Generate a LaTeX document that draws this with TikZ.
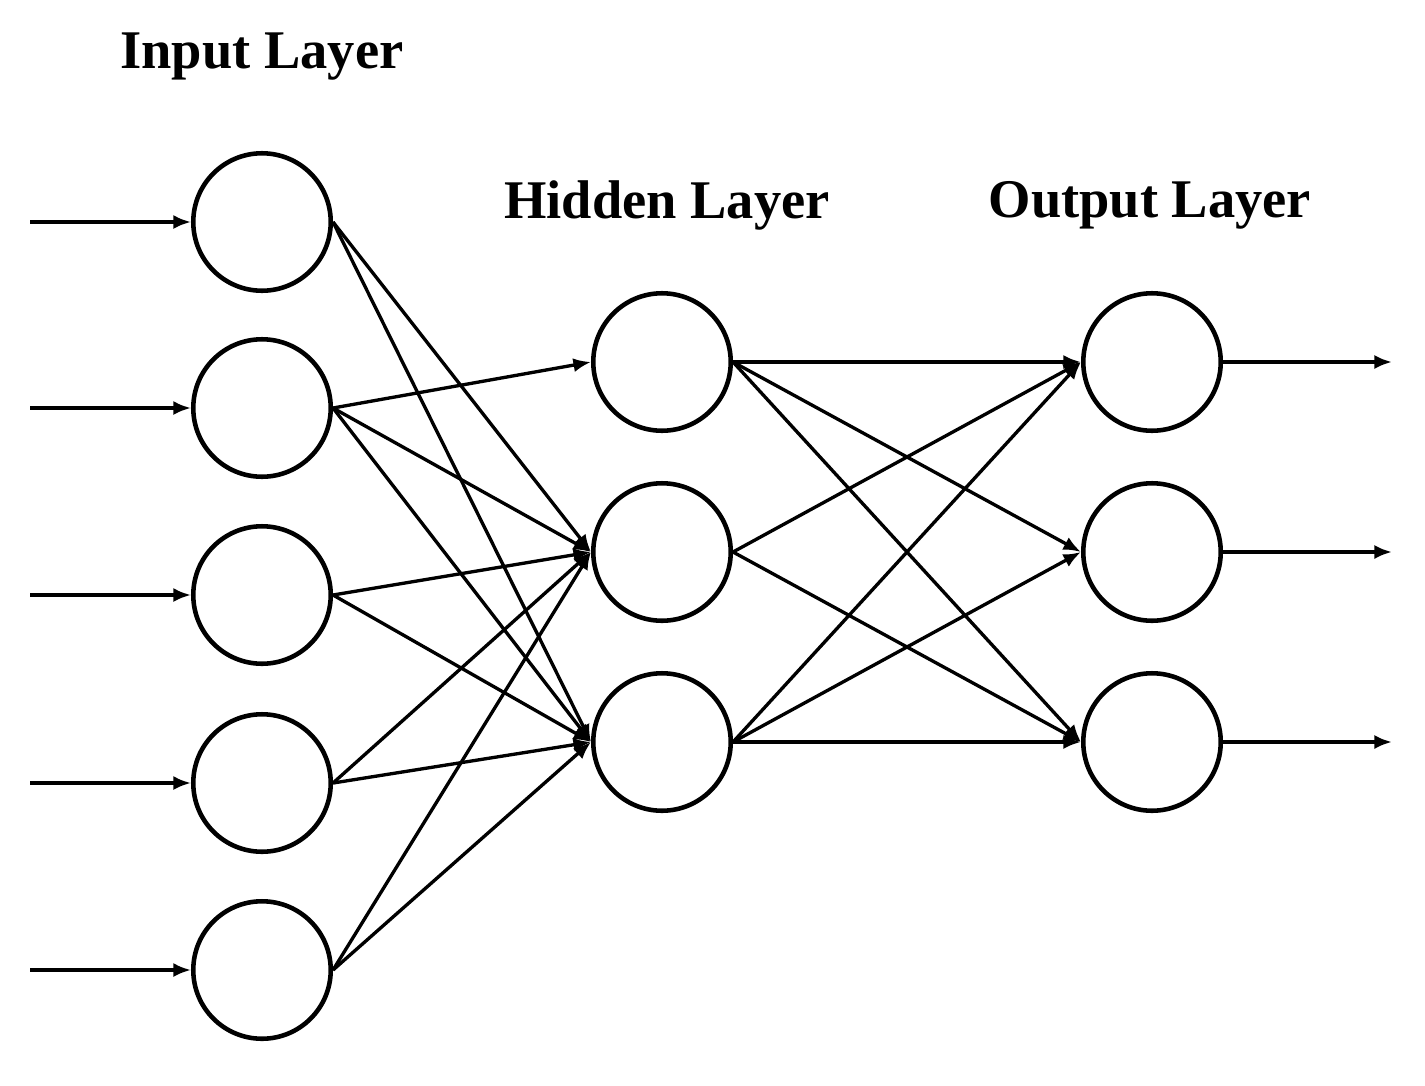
\documentclass[tikz,border=0pt]{standalone}
\usepackage{fontspec}
\setmainfont{Liberation Serif}
\usetikzlibrary{arrows.meta}
\begin{document}
\begin{tikzpicture}[x=0.02cm,y=-0.02cm,
 neuron/.style={circle,draw,line width=2.6pt,minimum size=2.75cm,inner sep=0},
 conn/.style={line width=1.9pt,-{Latex[length=10pt,width=8pt]}},
 lbl/.style={font=\bfseries\fontsize{31}{34}\selectfont}]
\useasboundingbox (0,0) rectangle (1425,1085);
\foreach \i/\y in {1/222,2/408,3/595,4/783,5/970}{
 \node[neuron] (i\i) at (262,\y) {};
 \coordinate (s\i) at (30,\y);
 \draw[conn] (s\i) -- (i\i);}
\foreach \j/\y in {1/362,2/552,3/742}{
 \node[neuron] (h\j) at (662,\y) {};
 \node[neuron] (o\j) at (1152,\y) {};
 \coordinate (e\j) at (1392,\y);
 \draw[conn] (o\j) -- (e\j);}
\foreach \a/\b in {1/2,1/3,2/1,2/2,2/3,3/2,3/3,4/2,4/3,5/2,5/3}
 \draw[conn] (i\a.east) -- (h\b.west);
\foreach \a/\b in {1/1,1/2,1/3,2/1,2/3,3/1,3/2,3/3}
 \draw[conn] (h\a.east) -- (o\b.west);
\node[lbl] (t1) at (262,57) {Input Layer};
\node[lbl] (t2) at (667,205) {Hidden Layer};
\node[lbl] (t3) at (1150,205) {Output Layer};
\end{tikzpicture}
\end{document}
